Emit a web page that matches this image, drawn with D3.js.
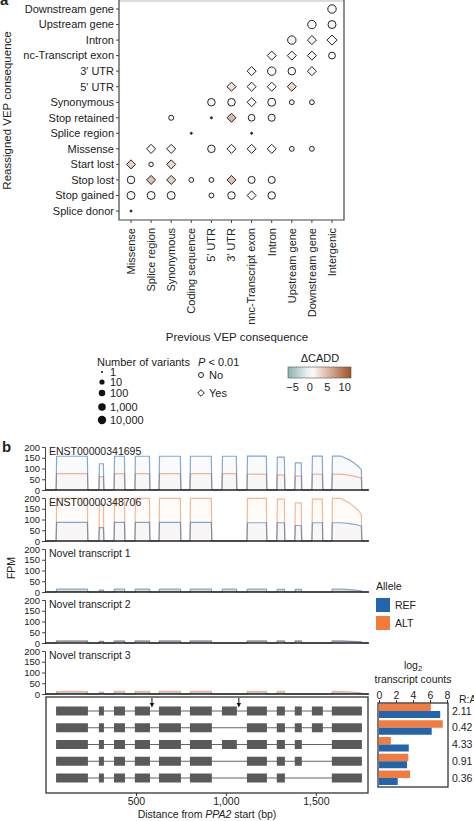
<!DOCTYPE html>
<html>
<head>
<meta charset="utf-8">
<title>VEP reassignment and PPA2 transcripts</title>
<script src="https://d3js.org/d3.v7.min.js"></script>
<style>
  body { margin: 0; background: #fff; }
  svg text { font-family: "Liberation Sans", Arial, sans-serif; fill: #222; }
</style>
</head>
<body>
<div id="vis"></div>
<script>
const width = 474;
const height = 821;

// ---------- panel a data ----------
const prevCats = ["Missense", "Splice region", "Synonymous", "Coding sequence", "5′ UTR", "3′ UTR",
  "nnc-Transcript exon", "Intron", "Upstream gene", "Downstream gene", "Intergenic"];
const newCats = ["Downstream gene", "Upstream gene", "Intron", "nc-Transcript exon", "3′ UTR", "5′ UTR",
  "Synonymous", "Stop retained", "Splice region", "Missense", "Start lost", "Stop lost", "Stop gained", "Splice donor"];
const NC = "nnc-Transcript exon";
// [previous, reassigned, number of variants, P<0.01 (1 = yes), delta CADD]
const vepPoints = [
  ["Intergenic", "Downstream gene", 10000, 0, 0],
  ["Downstream gene", "Upstream gene", 10000, 0, 0],
  ["Intergenic", "Upstream gene", 3000, 0, 0],
  ["Upstream gene", "Intron", 10000, 0, 0],
  ["Downstream gene", "Intron", 1000, 1, 0],
  ["Intergenic", "Intron", 10000, 1, 0],
  ["Intron", "nc-Transcript exon", 1000, 1, 0],
  ["Upstream gene", "nc-Transcript exon", 1000, 1, 1],
  ["Downstream gene", "nc-Transcript exon", 1000, 1, 0],
  ["Intergenic", "nc-Transcript exon", 200, 0, 0],
  [NC, "3′ UTR", 1000, 1, 0],
  ["Intron", "3′ UTR", 10000, 0, 0],
  ["Upstream gene", "3′ UTR", 1000, 0, 0.5],
  ["Downstream gene", "3′ UTR", 1000, 1, 0],
  ["3′ UTR", "5′ UTR", 1000, 1, 2.5],
  [NC, "5′ UTR", 1000, 1, 0],
  ["Intron", "5′ UTR", 1000, 1, 0.5],
  ["Upstream gene", "5′ UTR", 1000, 1, 3],
  ["5′ UTR", "Synonymous", 1000, 0, 0],
  ["3′ UTR", "Synonymous", 1000, 0, 0],
  [NC, "Synonymous", 1000, 1, 0],
  ["Intron", "Synonymous", 3000, 0, 0],
  ["Upstream gene", "Synonymous", 6, 0, 0],
  ["Downstream gene", "Synonymous", 6, 0, 0],
  ["Synonymous", "Stop retained", 8, 0, 0],
  ["5′ UTR", "Stop retained", 1, 0, 0],
  ["3′ UTR", "Stop retained", 1000, 1, 5],
  [NC, "Stop retained", 150, 0, 0],
  ["Intron", "Stop retained", 300, 0, 1],
  ["Coding sequence", "Splice region", 1, 0, 0],
  [NC, "Splice region", 1, 0, 0],
  ["Splice region", "Missense", 1000, 1, 1],
  ["Synonymous", "Missense", 1000, 1, 0],
  ["5′ UTR", "Missense", 1000, 0, 0],
  ["3′ UTR", "Missense", 1000, 1, 0],
  [NC, "Missense", 1000, 1, 0],
  ["Intron", "Missense", 1000, 1, 0.5],
  ["Upstream gene", "Missense", 6, 0, 0],
  ["Downstream gene", "Missense", 6, 0, 0],
  ["Missense", "Start lost", 1000, 1, 3.5],
  ["Splice region", "Start lost", 4, 0, 0],
  ["Synonymous", "Start lost", 1000, 1, 3],
  ["Missense", "Stop lost", 1000, 0, 1],
  ["Splice region", "Stop lost", 1000, 1, 4.5],
  ["Synonymous", "Stop lost", 1000, 1, 3.5],
  ["Coding sequence", "Stop lost", 6, 0, 0],
  ["5′ UTR", "Stop lost", 6, 0, 0],
  ["3′ UTR", "Stop lost", 1000, 1, 4.5],
  [NC, "Stop lost", 300, 0, 0],
  ["Intron", "Stop lost", 300, 0, 0],
  ["Missense", "Stop gained", 3000, 0, 1],
  ["Splice region", "Stop gained", 3000, 0, 0],
  ["Synonymous", "Stop gained", 3000, 0, 0],
  ["5′ UTR", "Stop gained", 6, 0, 0],
  ["3′ UTR", "Stop gained", 1000, 0, 0],
  [NC, "Stop gained", 1000, 1, 0],
  ["Intron", "Stop gained", 1000, 0, 0],
  ["Missense", "Splice donor", 1, 0, 0]
];
const sizeLegend = [1, 10, 100, 1000, 10000];
const caddTicks = [-5, 0, 5, 10];

// ---------- panel b data ----------
const trackNames = ["ENST00000341695", "ENST00000348706", "Novel transcript 1", "Novel transcript 2", "Novel transcript 3"];
const exonStart = [56, 294, 378, 494, 628, 800, 978, 1117, 1283, 1383, 1478, 1589];
const exonEnd   = [233, 322, 439, 578, 750, 922, 1061, 1228, 1328, 1422, 1539, 1756];
const trackExons = [
  [0, 1, 2, 3, 4, 5, 6, 7, 8, 9, 10, 11],
  [0, 1, 2, 3, 4, 5, 7, 8, 9, 10, 11],
  [0, 1, 2, 3, 4, 5, 6, 7, 8, 9, 11],
  [0, 1, 2, 3, 4, 5, 7, 8, 9, 11],
  [0, 1, 2, 3, 4, 5, 7, 8, 11]
];
const refCov = [
  [157, 122, 157, 157, 157, 157, 157, 158, 153, 126, 158, 158],
  [87, 62, 87, 87, 87, 87, 85, 85, 72, 85, 85],
  [13, 9, 13, 13, 13, 13, 13, 13, 12, 12, 13],
  [9, 6, 9, 9, 9, 9, 9, 9, 9, 9],
  [4, 3, 4, 4, 4, 4, 4, 4, 4]
];
const altCov = [
  [76, 62, 76, 76, 76, 76, 76, 74, 70, 65, 74, 74],
  [198, 170, 197, 198, 198, 198, 198, 195, 177, 195, 198],
  [3, 2, 3, 3, 3, 3, 3, 3, 3, 3, 3],
  [10, 9, 10, 10, 10, 10, 10, 10, 10, 10],
  [12, 9, 12, 12, 12, 12, 12, 12, 12]
];
const refTail = [95, 70, 6, 5, 2];
const altTail = [55, 125, 2, 4, 4];
const arrowPos = [589, 1072];
const log2Ref = [7.2, 6.2, 3.5, 3.3, 2.2];
const log2Alt = [6.1, 7.5, 1.4, 3.45, 3.65];
const ratioLabels = ["2.11", "0.42", "4.33", "0.91", "0.36"];

const REF = "#2166ac", ALT = "#f47b3e";

const svg = d3.select("#vis").append("svg").attr("width", width).attr("height", height);

// ================= panel a =================
const aL = 119, aR = 344, aT = 1, aB = 220;
const xA = d3.scalePoint().domain(prevCats).range([131, 332]);
const yA = d3.scalePoint().domain(newCats).range([9, 211]);
const rScale = d3.scaleSqrt().domain([0, 4]).range([1, 4.2]);
const cadd = d3.scaleLinear().domain([-6, 0.5, 12]).range(["#8cb6b4", "#ffffff", "#9a5226"]).interpolate(d3.interpolateLab);

svg.append("text").attr("x", 0).attr("y", 5).attr("font-size", 15).attr("font-weight", "bold").text("a");

const ga = svg.append("g");
ga.append("line").attr("x1", aL).attr("x2", aR).attr("y1", aT).attr("y2", aT).attr("stroke", "#ddd").attr("stroke-width", 2);
ga.append("path").attr("d", `M${aL},${aT - 1}V${aB}H${aR}V${aT - 1}`).attr("fill", "none").attr("stroke", "#444").attr("stroke-width", 1.2);

newCats.forEach(c => {
  ga.append("line").attr("x1", aL - 3).attr("x2", aL).attr("y1", yA(c)).attr("y2", yA(c)).attr("stroke", "#444");
  ga.append("text").attr("x", aL - 5).attr("y", yA(c)).attr("dy", "0.35em").attr("text-anchor", "end")
    .attr("font-size", 11).text(c);
});
prevCats.forEach(c => {
  ga.append("line").attr("x1", xA(c)).attr("x2", xA(c)).attr("y1", aB).attr("y2", aB + 3).attr("stroke", "#444");
  ga.append("text").attr("transform", `translate(${xA(c)},${aB + 8}) rotate(-90)`).attr("dy", "0.35em")
    .attr("text-anchor", "end").attr("font-size", 11).text(c);
});
ga.append("text").attr("transform", `translate(11,${(aT + aB) / 2}) rotate(-90)`).attr("text-anchor", "middle")
  .attr("font-size", 11.5).text("Reassigned VEP consequence");
ga.append("text").attr("x", 237).attr("y", 341).attr("text-anchor", "middle").attr("font-size", 11.5).text("Previous VEP consequence");

function diamond(h) { return `M0,${-h}L${h},0L0,${h}L${-h},0Z`; }

ga.selectAll(".pt").data(vepPoints).join("g").attr("class", "pt")
  .attr("transform", d => `translate(${xA(d[0])},${yA(d[1])})`)
  .each(function (d) {
    const r = rScale(Math.log10(d[2]));
    const g = d3.select(this);
    if (d[3]) {
      g.append("path").attr("d", diamond(r * 1.2)).attr("fill", cadd(d[4])).attr("stroke", "#222").attr("stroke-width", 1);
    } else {
      g.append("circle").attr("r", r).attr("fill", d[2] <= 1 ? "#222" : cadd(d[4])).attr("stroke", "#222").attr("stroke-width", 1);
    }
  });

// legends
const lg = svg.append("g");
lg.append("text").attr("x", 97).attr("y", 366).attr("font-size", 11).text("Number of variants");
const sizeY = [372, 382, 393, 407, 420];
sizeLegend.forEach((n, i) => {
  lg.append("circle").attr("cx", 102).attr("cy", sizeY[i]).attr("r", rScale(Math.log10(n))).attr("fill", "#111");
  lg.append("text").attr("x", 110).attr("y", sizeY[i]).attr("dy", "0.35em").attr("font-size", 11).text(d3.format(",")(n));
});
const pt = lg.append("text").attr("x", 198).attr("y", 366).attr("font-size", 11);
pt.append("tspan").attr("font-style", "italic").text("P");
pt.append("tspan").text(" < 0.01");
lg.append("circle").attr("cx", 201).attr("cy", 375).attr("r", 2.5).attr("fill", "none").attr("stroke", "#222");
lg.append("text").attr("x", 209).attr("y", 375).attr("dy", "0.35em").attr("font-size", 11).text("No");
lg.append("path").attr("transform", "translate(201,393)").attr("d", diamond(3.3)).attr("fill", "none").attr("stroke", "#222");
lg.append("text").attr("x", 209).attr("y", 393).attr("dy", "0.35em").attr("font-size", 11).text("Yes");

const cbX = d3.scaleLinear().domain([-6.3, 11.8]).range([288, 351]);
const grad = svg.append("defs").append("linearGradient").attr("id", "caddGrad");
d3.range(0, 1.0001, 0.1).forEach(t => {
  grad.append("stop").attr("offset", t).attr("stop-color", cadd(cbX.invert(288 + t * 63)));
});
lg.append("text").attr("x", 320).attr("y", 362).attr("text-anchor", "middle").attr("font-size", 11).text("ΔCADD");
lg.append("rect").attr("x", 288).attr("y", 367).attr("width", 63).attr("height", 11).attr("fill", "url(#caddGrad)")
  .attr("stroke", "#555").attr("stroke-width", 0.6);
caddTicks.forEach(t => {
  lg.append("text").attr("x", cbX(t)).attr("y", 387).attr("dy", "0.35em").attr("text-anchor", "middle").attr("font-size", 11).text(t === -5 ? "−5" : t);
});

// ================= panel b =================
svg.append("text").attr("x", 2).attr("y", 452).attr("font-size", 15).attr("font-weight", "bold").text("b");

const xB = d3.scaleLinear().domain([0, 1790]).range([46, 368]);
const trackH = 43, trackTop0 = 447, trackStep = 51;

function covPoints(exons, vals, tail) {
  const pts = [[0, 0]];
  exons.forEach((ei, k) => {
    const s = exonStart[ei], e = exonEnd[ei], v = vals[k];
    pts.push([s, 0], [s + 3, v]);
    if (k === exons.length - 1) {
      const L = e - s;
      pts.push([s + 0.3 * L, v], [s + 0.6 * L, v - (v - tail) * 0.3], [s + 0.85 * L, v - (v - tail) * 0.7], [e - 3, tail]);
    } else {
      pts.push([e - 3, v]);
    }
    pts.push([e, 0]);
  });
  pts.push([1790, 0]);
  return pts;
}

trackNames.forEach((name, i) => {
  const y0 = trackTop0 + i * trackStep;
  const yT = d3.scaleLinear().domain([0, 200]).range([y0 + trackH, y0]);
  const g = svg.append("g");
  const line = d3.line().x(d => xB(d[0])).y(d => yT(d[1]));
  const area = d3.area().x(d => xB(d[0])).y0(yT(0)).y1(d => yT(d[1]));
  [[altCov[i], altTail[i], ALT], [refCov[i], refTail[i], REF]].forEach(([vals, tail, col]) => {
    const pts = covPoints(trackExons[i], vals, tail);
    g.append("path").attr("d", area(pts)).attr("fill", col).attr("fill-opacity", i < 2 ? 0.03 : 0.12);
    g.append("path").attr("d", line(pts)).attr("fill", "none").attr("stroke", col).attr("stroke-opacity", 0.55).attr("stroke-width", 1.2);
  });
  const ax = g.append("g").attr("transform", "translate(45,0)")
    .call(d3.axisLeft(yT).tickValues([0, 50, 100, 150, 200]).tickSize(3).tickPadding(2));
  ax.selectAll("text").attr("font-size", 9.5).style("font-family", "Liberation Sans, Arial, sans-serif");
  ax.selectAll("line,path").attr("stroke", "#444");
  g.append("line").attr("x1", 45).attr("x2", 369).attr("y1", y0 + trackH).attr("y2", y0 + trackH).attr("stroke", "#222").attr("stroke-width", 1.3);
  g.append("text").attr("x", 49).attr("y", y0 + 8).attr("font-size", 10.5).text(name);
});
svg.append("text").attr("transform", "translate(15,568) rotate(-90)").attr("text-anchor", "middle").attr("font-size", 10.5).text("FPM");

// allele legend
svg.append("text").attr("x", 376).attr("y", 590).attr("font-size", 10.5).text("Allele");
[["REF", REF, 598], ["ALT", ALT, 616]].forEach(([lab, col, y]) => {
  svg.append("rect").attr("x", 376).attr("y", y).attr("width", 14).attr("height", 14).attr("fill", col);
  svg.append("text").attr("x", 395).attr("y", y + 7).attr("dy", "0.35em").attr("font-size", 10.5).text(lab);
});

// gene models
const rowY = d3.scalePoint().domain(d3.range(5)).range([711, 778]);
const gm = svg.append("g");
gm.append("rect").attr("x", 46).attr("y", 697).attr("width", 322).attr("height", 96).attr("fill", "none").attr("stroke", "#333").attr("stroke-width", 1.3);
trackExons.forEach((ex, i) => {
  const y = rowY(i);
  gm.append("line").attr("x1", xB(exonStart[ex[0]])).attr("x2", xB(exonEnd[ex[ex.length - 1]]))
    .attr("y1", y).attr("y2", y).attr("stroke", "#666").attr("stroke-width", 1);
  ex.forEach(ei => {
    gm.append("rect").attr("x", xB(exonStart[ei])).attr("y", y - 4.5).attr("width", xB(exonEnd[ei]) - xB(exonStart[ei]))
      .attr("height", 9).attr("fill", "#5a5a5a");
  });
});
arrowPos.forEach(p => {
  gm.append("line").attr("x1", xB(p)).attr("x2", xB(p)).attr("y1", 698).attr("y2", 704).attr("stroke", "#111").attr("stroke-width", 1);
  gm.append("path").attr("d", `M${xB(p) - 2.2},${703}L${xB(p) + 2.2},${703}L${xB(p)},${707.5}Z`).attr("fill", "#111");
});
const bx = gm.append("g").attr("transform", "translate(0,793)")
  .call(d3.axisBottom(xB).tickValues([500, 1000, 1500]).tickFormat(d3.format(",")).tickSize(3).tickPadding(2));
bx.select(".domain").remove();
bx.selectAll("text").attr("font-size", 10.5).style("font-family", "Liberation Sans, Arial, sans-serif");
bx.selectAll("line").attr("stroke", "#333");
const xt = svg.append("text").attr("x", 207).attr("y", 818).attr("text-anchor", "middle").attr("font-size", 10.5);
xt.append("tspan").text("Distance from ");
xt.append("tspan").attr("font-style", "italic").text("PPA2");
xt.append("tspan").text(" start (bp)");

// transcript count bars
const xC = d3.scaleLinear().domain([0, 8]).range([379, 447]);
const bc = svg.append("g");
rowY.domain().forEach(i => {
  const y = rowY(i);
  bc.append("rect").attr("x", xC(0)).attr("y", y - 7.5).attr("width", xC(log2Alt[i]) - xC(0)).attr("height", 7.5).attr("fill", ALT);
  bc.append("rect").attr("x", xC(0)).attr("y", y).attr("width", xC(log2Ref[i]) - xC(0)).attr("height", 7).attr("fill", REF);
  bc.append("text").attr("x", 452).attr("y", y).attr("dy", "0.35em").attr("font-size", 10.5).text(ratioLabels[i]);
});
bc.append("rect").attr("x", 378).attr("y", 703).attr("width", 70).attr("height", 84).attr("fill", "none").attr("stroke", "#333").attr("stroke-width", 1.3);
const cax = bc.append("g").attr("transform", "translate(0,703)")
  .call(d3.axisTop(xC).tickValues([0, 2, 4, 6, 8]).tickSize(3).tickPadding(1));
cax.select(".domain").remove();
cax.selectAll("text").attr("font-size", 10.5).style("font-family", "Liberation Sans, Arial, sans-serif");
cax.selectAll("line").attr("stroke", "#333");
const lt = bc.append("text").attr("x", 413).attr("y", 669).attr("text-anchor", "middle").attr("font-size", 10.5);
lt.append("tspan").text("log");
lt.append("tspan").attr("font-size", 7.5).attr("dy", 2).text("2");
bc.append("text").attr("x", 413).attr("y", 683).attr("text-anchor", "middle").attr("font-size", 10.5).text("transcript counts");
bc.append("text").attr("x", 459).attr("y", 699).attr("dy", "0.35em").attr("font-size", 10.5).text("R:A");
</script>
</body>
</html>
